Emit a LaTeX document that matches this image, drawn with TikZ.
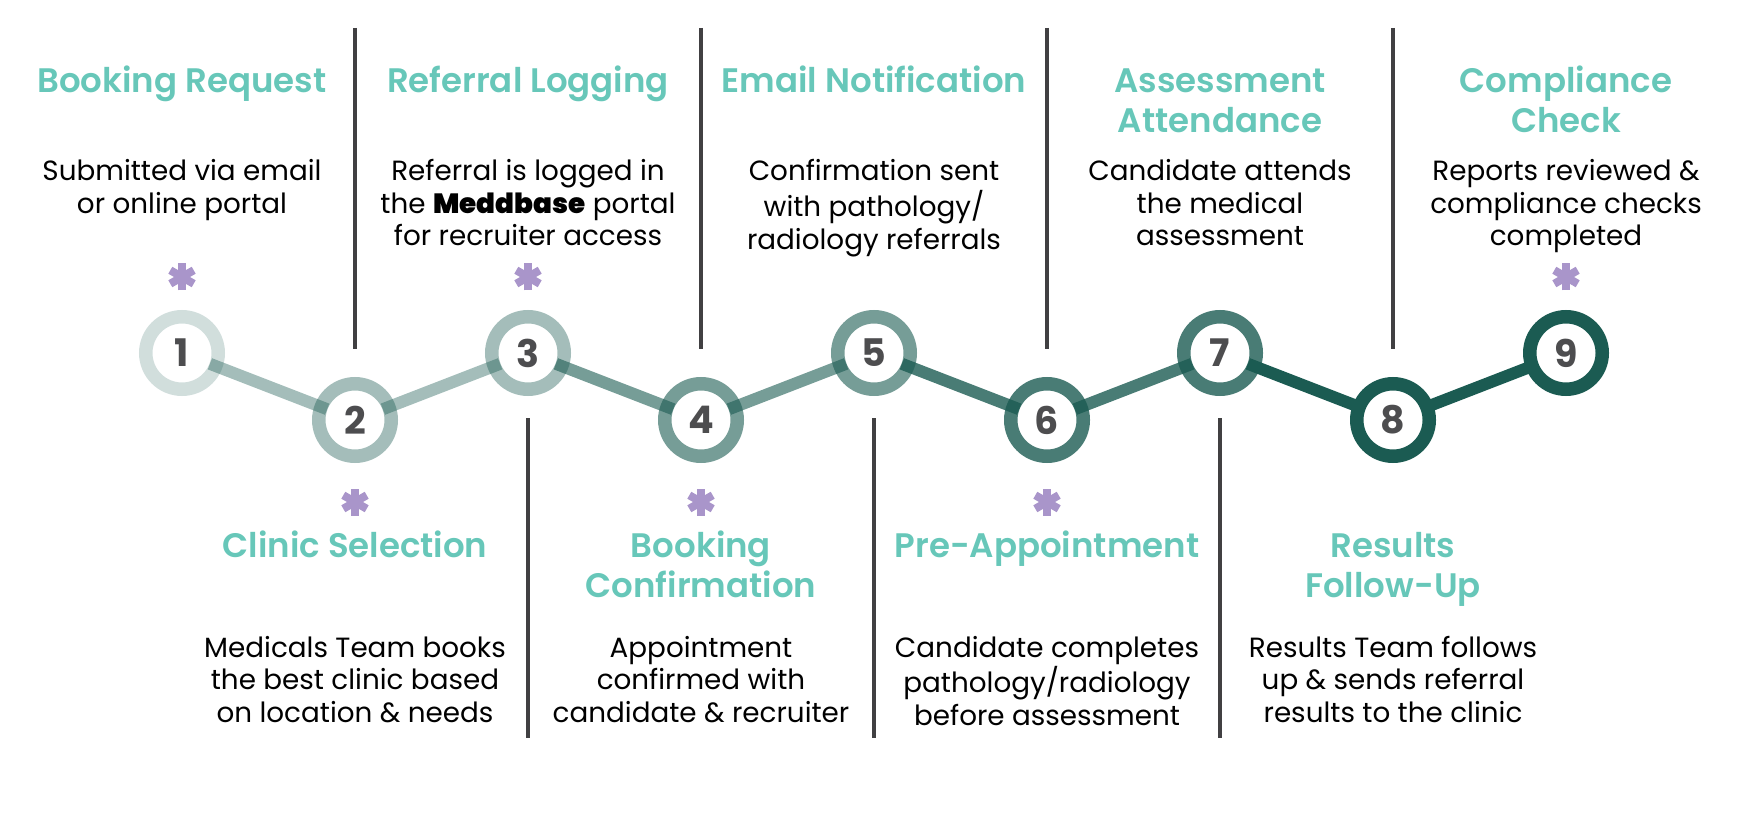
\documentclass[tikz,border=0pt]{standalone}
\usepackage{fontspec}
\setmainfont{Poppins}
\newfontfamily\headfont{Poppins SemiBold}
\newfontfamily\heavyfont{Poppins Black}
\usepackage{tikz}
\definecolor{stepgreen}{HTML}{1B5B52}
\definecolor{headteal}{HTML}{67C7B9}
\definecolor{starlilac}{HTML}{A995CA}
\definecolor{rulegray}{HTML}{414042}
\definecolor{numgray}{HTML}{4D4D4F}
\tikzset{
  stepdot/.style={circle,minimum size=29.5pt,inner sep=0pt,
    font=\bfseries\fontsize{19}{19}\selectfont,text=numgray},
  stepring/.style={draw=stepgreen,line width=6.75pt},
  steplink/.style={draw=stepgreen,line width=6pt},
  divider/.style={draw=rulegray,line width=2pt},
  headtxt/.style={anchor=base,inner sep=0pt,text=headteal,
    font=\headfont\fontsize{17}{20}\selectfont},
  desctxt/.style={anchor=base,inner sep=0pt,text=black,
    font=\fontsize{13.9}{16.25}\selectfont}}
\newcommand{\sx}[1]{\the\numexpr182+(#1-1)*173\relax}
\newcommand{\stack}[1]{\begin{tabular}[t]{@{}c@{}}#1\end{tabular}}
\newcommand{\uptext}[3]{%
  \node[headtxt] (t#1) at (\sx{#1},93) {\stack{#2}};
  \node[desctxt] (d#1) at (\sx{#1},181) {\stack{#3}};}
\newcommand{\lowtext}[3]{%
  \node[headtxt] (t#1) at (\sx{#1},557) {\stack{#2}};
  \node[desctxt] (d#1) at (\sx{#1},657) {\stack{#3}};}
\newcommand{\medstar}[2]{%
  \foreach \a in {90,30,150}{\draw[starlilac,line width=4pt]
    (#1,#2) ++(\a:13.5) -- ++(\a+180:27);}}

\begin{document}
\begin{tikzpicture}[x=0.5pt,y=-0.5pt]
  \useasboundingbox (0,0) rectangle (1754,828);
  % steps
  \foreach \k in {1,...,9}{
    \pgfmathsetmacro{\py}{isodd(\k) ? 353 : 420}
    \node[stepdot] (c\k) at (\sx{\k},\py) {\k};}
  \foreach \a/\b/\op in {1/2/0.4,2/3/0.4,3/4/0.6,4/5/0.6,5/6/0.8,6/7/0.8,7/8/1,8/9/1}
    \draw[steplink,opacity=\op] (c\a) -- (c\b);
  \foreach \k/\op in {1/0.2,2/0.4,3/0.4,4/0.6,5/0.6,6/0.8,7/0.8,8/1,9/1}
    \draw[stepring,opacity=\op] (c\k.center) circle (18.125pt);
  % dividers
  \foreach \k in {2,4,6,8}
    \draw[divider] (\sx{\k},28) -- (\sx{\k},349);
  \foreach \k in {3,5,7}
    \draw[divider] (\sx{\k},418) -- (\sx{\k},738);
  % markers
  \medstar{\sx{1}}{277} \medstar{\sx{3}}{277} \medstar{\sx{9}}{277}
  \medstar{\sx{2}}{502} \medstar{\sx{4}}{502} \medstar{\sx{6}}{502}
  % labels
  \uptext{1}{Booking Request}{Submitted via email\\or online portal}
  \uptext{3}{Referral Logging}{Referral is logged in\\the {\heavyfont Meddbase} portal\\for recruiter access}
  \uptext{5}{Email Notification}{Confirmation sent\\with pathology/\\radiology referrals}
  \uptext{7}{Assessment\\Attendance}{Candidate attends\\the medical\\assessment}
  \uptext{9}{Compliance\\Check}{Reports reviewed \&\\compliance checks\\completed}
  \lowtext{2}{Clinic Selection}{Medicals Team books\\the best clinic based\\on location \& needs}
  \lowtext{4}{Booking\\Confirmation}{Appointment\\confirmed with\\candidate \& recruiter}
  \lowtext{6}{Pre-Appointment}{Candidate completes\\pathology/radiology\\before assessment}
  \lowtext{8}{Results\\Follow-Up}{Results Team follows\\up \& sends referral\\results to the clinic}
\end{tikzpicture}
\end{document}
